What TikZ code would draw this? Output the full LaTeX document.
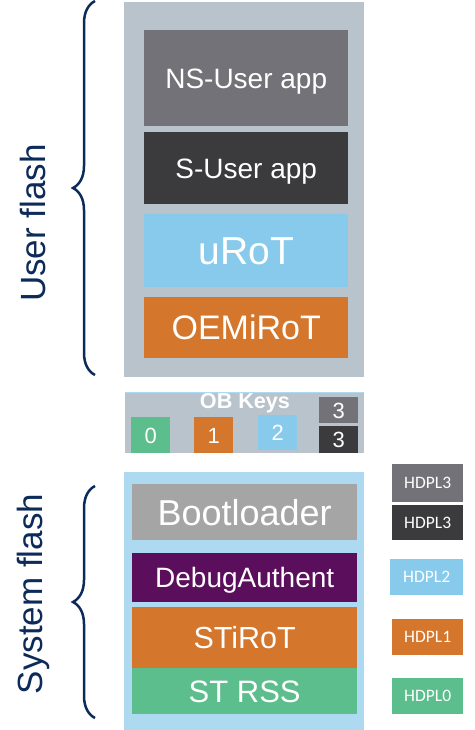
\documentclass[tikz,border=0pt]{standalone}
\usepackage{fontspec}
\setmainfont{Liberation Sans}
\newfontfamily\hdplfont{Carlito}
\usetikzlibrary{decorations.pathreplacing}

\definecolor{panelgrey}{HTML}{B9C3CB}
\definecolor{nsgrey}{HTML}{737278}
\definecolor{darkgrey}{HTML}{3B3B3D}
\definecolor{skyblue}{HTML}{88CAEC}
\definecolor{paleblue}{HTML}{ADDAF1}
\definecolor{storange}{HTML}{D4762C}
\definecolor{bootgrey}{HTML}{A5A5A5}
\definecolor{stpurple}{HTML}{5B0E5C}
\definecolor{stgreen}{HTML}{5CBD8D}
\definecolor{navy}{HTML}{0D2B5A}

\tikzset{
  sz/.style={font=\fontsize{#1}{#1}\selectfont, text height={0.716*#1pt}},
  box/.style={anchor=north west, inner sep=0pt, text=white, text depth=0pt},
  ubox/.style={box, minimum width=204pt},
  sbox/.style={box, minimum width=225pt},
  key/.style={box, minimum width=39pt},
  hdpl/.style={box, minimum width=71pt, minimum height=36pt,
    font=\hdplfont\fontsize{17.5}{17.5}\selectfont, text height=11.3pt},
  flashbrace/.style={draw=navy, line width=2.5pt,
    decorate, decoration={brace, amplitude=22pt}},
  side/.style={text=navy, rotate=90, font=\fontsize{35}{35}\selectfont}
}

\begin{document}
\begin{tikzpicture}[x=1pt,y=-1pt]
  \useasboundingbox (0,0) rectangle (474,730);

  % user flash
  \fill[panelgrey] (124,2) rectangle (364,377);
  \node[ubox, fill=nsgrey, minimum height=96pt, sz=28] (ns) at (144,30) {NS-User app};
  \node[ubox, fill=darkgrey, minimum height=72pt, sz=28] (s) at (144,132) {S-User app};
  \node[ubox, fill=skyblue, minimum height=73pt, sz=39] (urot) at (144,214) {uRoT};
  \node[ubox, fill=storange, minimum height=61pt, sz=34] (oemirot) at (144,297) {OEMiRoT};

  \draw[flashbrace] (95,375) -- (95,1);
  \node[side] (uflash) at (33,223) {User flash};

  % option bytes keys
  \fill[panelgrey] (125,392) rectangle (364,453);
  \draw[paleblue, line width=1pt] (125,392) -- (364,392);
  \node[text=white, inner sep=0pt, font=\bfseries\fontsize{21.6}{21.6}\selectfont] (obkeys) at (245,403) {OB Keys};
  \node[key, fill=stgreen, minimum height=36pt, sz=22] (k0) at (131,417) {0};
  \node[key, fill=storange, minimum height=36pt, sz=22] (k1) at (194,417) {1};
  \node[key, fill=skyblue, minimum height=35pt, sz=22] (k2) at (258,415) {2};
  \node[key, fill=nsgrey, minimum height=26pt, sz=22] (k3a) at (319,397) {3};
  \node[key, fill=darkgrey, minimum height=27pt, sz=22] (k3b) at (319,426) {3};

  % system flash
  \fill[paleblue] (124,472) rectangle (364,730);
  \node[sbox, fill=bootgrey, minimum height=56pt, sz=36] (boot) at (132,484) {Bootloader};
  \node[sbox, fill=stpurple, minimum height=49pt, sz=28] (dbg) at (132,553) {DebugAuthent};
  \node[sbox, fill=storange, minimum height=61pt, sz=30.5] (stirot) at (132,607) {STiRoT};
  \node[sbox, fill=stgreen, minimum height=46pt, sz=31] (strss) at (132,668) {ST RSS};

  \draw[flashbrace] (95,718) -- (95,486);
  \node[side] (sflash) at (33,594) {System flash};

  % hide protection levels
  \node[hdpl, fill=nsgrey, minimum height=38pt] (h3a) at (392,464) {HDPL3};
  \node[hdpl, fill=darkgrey, minimum height=35pt] (h3b) at (392,505) {HDPL3};
  \node[hdpl, fill=skyblue, minimum width=73pt] (h2) at (390,559) {HDPL2};
  \node[hdpl, fill=storange] (h1) at (392,619) {HDPL1};
  \node[hdpl, fill=stgreen] (h0) at (392,678) {HDPL0};
\end{tikzpicture}
\end{document}
